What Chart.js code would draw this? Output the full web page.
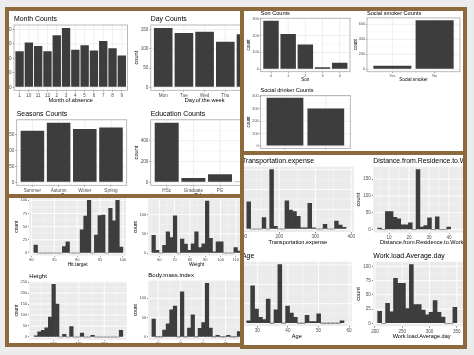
<!DOCTYPE html>
<html><head><meta charset="utf-8">
<script src="https://cdn.jsdelivr.net/npm/chart.js@4.4.1/dist/chart.umd.min.js"></script>
<style>
html,body{margin:0;padding:0;}
body{width:474px;height:355px;overflow:hidden;background:#ececec;position:relative;}
.fr{position:absolute;box-sizing:border-box;border:4px solid #8c6a3e;background:#fff;overflow:hidden;}
.fr canvas{position:absolute;}
</style></head><body>
<div class="fr" id="tl" style="left:5px;top:7px;width:239px;height:191px"></div>
<div class="fr" id="bl" style="left:5px;top:194px;width:239px;height:153px"></div>
<div class="fr" id="tr" style="left:240px;top:7px;width:227px;height:148px"></div>
<div class="fr" id="br" style="left:240px;top:151px;width:227px;height:198px"></div>
<script>
// ---------- data ----------
const monthLabels = ['1','10','11','12','2','3','4','5','6','7','8','9'];
const monthCounts = [50,62,57,50,72,82,52,58,51,64,54,44];
const dayLabels = ['Mon','Tue','Wed','Thu','Fri'];
const dayCounts = [154,141,144,118,138];
const seasonLabels = ['Summer','Autumn','Winter','Spring'];
const seasonCounts = [163,188,168,173];
const educationLabels = ['HSc','Graduate','PG','Master'];
const educationCounts = [573,42,77,4];
const sonLabels = ['0','1','2','3','4'];
const sonCounts = [288,209,146,12,39];
const smokerLabels = ['Yes','No'];
const smokerCounts = [48,653];
const drinkerLabels = ['Yes','No'];
const drinkerCounts = [389,303];

const hitBins = {start:80.9, width:0.78};
const hitCounts = [15,0,0,0,0,0,0,0,12,21,0,0,0,44,70,100,0,34,71,72,0,85,61,100,11];
const hitTicks = [80,85,90,95,100];
const weightBins = {start:56.3, width:2.33};
const weightCounts = [46,7,0,20,55,40,97,0,36,23,7,24,55,14,24,135,38,3,29,29,0,0,0,14,5];
const weightTicks = [60,70,80,90,100,110];
const heightBins = {start:163.2, width:1.39};
const heightCounts = [5,23,30,42,90,240,150,0,12,0,47,0,0,18,0,0,7,0,0,0,0,0,0,0,30];
const heightTicks = [170,180,190];
const bmiBins = {start:19, width:0.79};
const bmiCounts = [46,0,0,18,34,70,80,0,117,0,23,57,0,22,37,139,23,0,4,0,0,4,0,0,14];
const bmiTicks = [20,25,30,35];
const transBins = {start:115, width:10.6};
const transCounts = [69,0,0,0,29,0,150,7,0,0,71,48,44,32,3,3,65,3,0,0,12,0,0,20,10,4];
const transTicks = [100,200,300,400];
const distBins = {start:5.3, width:1.92};
const distCounts = [4,0,53,53,36,32,14,14,20,0,178,7,12,35,0,38,0,0,7];
const distTicks = [10,20,30,40,50];
const ageBins = {start:27.2, width:1.27};
const ageCounts = [6,96,36,15,9,62,0,34,151,0,44,26,15,0,0,20,4,4,24,0,0,0,0,0,6];
const ageTicks = [30,40,50,60];
const workBins = {start:208.6, width:7.26};
const workCounts = [21,0,35,20,79,70,70,26,103,33,33,23,15,19,40,19,11,0,0,28];
const workTicks = [200,250,300,350];

// ---------- layout / style ----------
const FONT = "'Liberation Sans', Arial, Helvetica, sans-serif";
const FRAMES = {tl:[9,11], bl:[9,198], tr:[244,11], br:[244,155]};
const SCALE = {tl:1, tr:0.81, bl:0.88, br:1};
const THEMES = {
  bw:{bg:'#ffffff', major:'#e4e4e4', majorW:0.6, minor:'#f2f2f2', minorW:0.4, border:'#a8a8a8', tick:'#555555'},
  gray:{bg:'#ebebeb', major:'#ffffff', majorW:0.9, minor:'#f6f6f6', minorW:0.5, border:null, tick:'#333333'}
};
const BAR = '#3d3d3d';

function minorBreaks(ticks, lo, hi){
  if (ticks.length < 2) return [];
  const d = ticks[1]-ticks[0], out = [];
  for (let v = ticks[0]-d/2; v <= hi; v += d) if (v >= lo) out.push(v);
  return out;
}

const ggPlugin = {
  id:'gg',
  beforeDatasetsDraw(chart, args, o){
    const {ctx, chartArea:a, scales:{x,y}} = chart;
    const th = THEMES[o.theme];
    ctx.save();
    ctx.fillStyle = th.bg;
    ctx.fillRect(a.left, a.top, a.right-a.left, a.bottom-a.top);
    ctx.beginPath(); ctx.rect(a.left, a.top, a.right-a.left, a.bottom-a.top); ctx.clip();
    const hline = (v, c, w) => { const p = y.getPixelForValue(v); ctx.strokeStyle=c; ctx.lineWidth=w; ctx.beginPath(); ctx.moveTo(a.left,p); ctx.lineTo(a.right,p); ctx.stroke(); };
    const vline = (v, c, w) => { const p = x.getPixelForValue(v); ctx.strokeStyle=c; ctx.lineWidth=w; ctx.beginPath(); ctx.moveTo(p,a.top); ctx.lineTo(p,a.bottom); ctx.stroke(); };
    minorBreaks(o.yTicks, y.min, y.max).forEach(v => hline(v, th.minor, th.minorW));
    if (!o.discrete) minorBreaks(o.xTicks, x.min, x.max).forEach(v => vline(v, th.minor, th.minorW));
    o.yTicks.forEach(v => hline(v, th.major, th.majorW));
    o.xTicks.forEach(v => vline(v, th.major, th.majorW));
    ctx.restore();
  },
  afterDatasetsDraw(chart, args, o){
    const th = THEMES[o.theme];
    if (!th.border) return;
    const {ctx, chartArea:a} = chart;
    ctx.save(); ctx.strokeStyle = th.border; ctx.lineWidth = 0.8;
    ctx.strokeRect(a.left, a.top, a.right-a.left, a.bottom-a.top);
    ctx.restore();
  },
  afterDraw(chart, args, o){
    const {ctx, chartArea:a} = chart;
    const f = o.f;
    ctx.save();
    ctx.fillStyle = '#000';
    ctx.font = o.sz.t + 'px ' + FONT;
    ctx.textAlign = 'left'; ctx.textBaseline = 'alphabetic';
    if (o.title) ctx.fillText(o.title, a.left + (o.tdx||0), a.top - 3.8*f);
    ctx.font = o.sz.a + 'px ' + FONT;
    ctx.textAlign = 'center'; ctx.textBaseline = 'middle';
    if (o.xTitle) ctx.fillText(o.xTitle, (a.left+a.right)/2, a.bottom + 10.4*f);
    ctx.font = o.sz.k + 'px ' + FONT;
    let mw = 0;
    o.yTicks.forEach(v => { mw = Math.max(mw, ctx.measureText(String(v)).width); });
    ctx.font = o.sz.a + 'px ' + FONT;
    const yx = a.left - (1.4*f + 1.0*f + mw + 1.6*f + o.sz.a/2);
    ctx.translate(yx, (a.top+a.bottom)/2);
    ctx.rotate(-Math.PI/2);
    if (o.yTitle) ctx.fillText(o.yTitle, 0, 0);
    ctx.restore();
  }
};

function makeChart(sp){
  const fr = FRAMES[sp.frame], f = SCALE[sp.frame];
  const sz = {t:6.9*f, a:5.6*f, k:4.6*f};
  const el = document.getElementById(sp.frame);
  const [pl,pt,pr,pb] = sp.plot;
  const cl = Math.floor(pl-46), ct = Math.floor(pt-16);
  const cr = Math.ceil(pr+3), cb = Math.ceil(pb+24);
  const cw = cr-cl, ch = cb-ct;
  const ML = pl-cl, MT = pt-ct, MR = cr-pr, MB = cb-pb;
  const cv = document.createElement('canvas');
  cv.width = cw; cv.height = ch;
  Object.assign(cv.style, {left:(cl-fr[0])+'px', top:(ct-fr[1])+'px', width:cw+'px', height:ch+'px'});
  el.appendChild(cv);
  let pts, xmin, xmax, xticks, xlab, pct, discrete;
  if (sp.labels){
    pts = sp.counts.map((c,i)=>({x:i+1, y:c}));
    xmin = 0.4; xmax = sp.labels.length + 0.6;
    xticks = sp.labels.map((_,i)=>i+1);
    xlab = v => sp.labels[Math.round(v)-1] || '';
    pct = 0.9; discrete = true;
  } else {
    pts = sp.counts.map((c,i)=>({x:sp.bins.start + i*sp.bins.width, y:c}));
    [xmin,xmax] = sp.xRange; xticks = sp.xTicks; xlab = v => String(v);
    pct = 1; discrete = false;
  }
  const th = THEMES[sp.theme];
  const tickOpts = (cb) => ({font:{family:FONT, size:sz.k}, color:'#4d4d4d', padding:1.0*f, maxRotation:0, minRotation:0, autoSkip:false, callback:cb});
  const gridOpts = {display:true, drawOnChartArea:false, drawTicks:true, tickLength:1.4*f, tickColor:th.tick, tickWidth:0.6, offset:false};
  new Chart(cv, {
    type:'bar',
    data:{datasets:[{data:pts, backgroundColor:BAR, borderWidth:0, categoryPercentage:pct, barPercentage:1}]},
    options:{
      responsive:false, animation:false, devicePixelRatio:1,
      layout:{padding:{left:0, top:MT, right:MR, bottom:0}, autoPadding:false},
      plugins:{legend:{display:false}, tooltip:{enabled:false}, title:{display:false},
        gg:{theme:sp.theme, f, sz, title:sp.title, xTitle:sp.xTitle, yTitle:'count', xTicks:xticks, yTicks:sp.yTicks, discrete, tdx:sp.tdx}},
      scales:{
        x:{type:'linear', min:xmin, max:xmax, offset:false,
           afterFit:s=>{s.height = MB;},
           afterBuildTicks:s=>{s.ticks = xticks.map(v=>({value:v}));},
           grid:gridOpts, border:{display:false}, ticks:tickOpts(xlab)},
        y:{type:'linear', min:sp.y[0], max:sp.y[1],
           afterFit:s=>{s.width = ML;},
           afterBuildTicks:s=>{s.ticks = sp.yTicks.map(v=>({value:v}));},
           grid:gridOpts, border:{display:false}, ticks:tickOpts(v=>String(v))}
      }
    },
    plugins:[ggPlugin]
  });
}

const specs = [
  {frame:'tl', theme:'bw', labels:monthLabels, counts:monthCounts, title:'Month Counts', xTitle:'Month.of.absence', plot:[14,25,127.4,90.3], y:[-4.1,86.1], yTicks:[0,20,40,60,80]},
  {frame:'tl', theme:'bw', labels:dayLabels, counts:dayCounts, title:'Day Counts', xTitle:'Day.of.the.week', plot:[150.8,25,258.4,90.3], y:[-7.7,161.7], yTicks:[0,50,100,150]},
  {frame:'tl', theme:'bw', labels:seasonLabels, counts:seasonCounts, title:'Seasons Counts', xTitle:'Seasons', plot:[16.7,119.8,126.7,185.3], y:[-9.4,197.4], yTicks:[0,50,100,150]},
  {frame:'tl', theme:'bw', labels:educationLabels, counts:educationCounts, title:'Education Counts', xTitle:'Education', plot:[150.7,119.8,262.7,185.3], y:[-28.65,601.65], yTicks:[0,200,400]},

  {frame:'tr', theme:'bw', labels:sonLabels, counts:sonCounts, title:'Son Counts', xTitle:'Son', plot:[260.7,18.2,350,71.7], y:[-14.4,302.4], yTicks:[0,100,200,300]},
  {frame:'tr', theme:'bw', labels:smokerLabels, counts:smokerCounts, title:'Social smoker Counts', xTitle:'Social.smoker', plot:[367,17.9,460,71.75], y:[-32.65,685.65], yTicks:[0,200,400,600]},
  {frame:'tr', theme:'bw', labels:drinkerLabels, counts:drinkerCounts, title:'Social drinker Counts', xTitle:'Social.drinker', plot:[260.5,95.4,350.3,148.4], y:[-19.45,408.45], yTicks:[0,100,200,300,400]},

  {frame:'bl', theme:'gray', bins:hitBins, counts:hitCounts, title:'Hit.target', xTitle:'Hit.target', plot:[29.3,197.7,126,255.6], y:[-5,105], yTicks:[0,25,50,75,100], xRange:[79.5,100.7], xTicks:hitTicks},
  {frame:'bl', theme:'gray', bins:weightBins, counts:weightCounts, title:'Weight', xTitle:'Weight', plot:[148.3,198.6,245,255.6], y:[-6.75,141.75], yTicks:[0,50,100], xRange:[52.8,116], xTicks:weightTicks},
  {frame:'bl', theme:'gray', bins:heightBins, counts:heightCounts, title:'Height', xTitle:'Height', plot:[29.3,281.6,126.7,339.6], y:[-12,252], yTicks:[0,50,100,150,200,250], xRange:[160.6,198.8], xTicks:heightTicks},
  {frame:'bl', theme:'gray', bins:bmiBins, counts:bmiCounts, title:'Body.mass.index', xTitle:'Body.mass.index', plot:[148.3,280.6,245,339.6], y:[-6.95,145.95], yTicks:[0,50,100], xRange:[17.8,39.3], xTicks:bmiTicks},

  {frame:'br', theme:'gray', bins:transBins, counts:transCounts, title:'Transportation.expense', xTitle:'Transportation.expense', plot:[241.9,166.7,353.8,232], y:[-7.5,157.5], yTicks:[0,50,100,150], xRange:[96,407], xTicks:transTicks},
  {frame:'br', theme:'gray', bins:distBins, counts:distCounts, title:'Distance.from.Residence.to.Work', xTitle:'Distance.from.Residence.to.Work', plot:[373.3,166.7,470,232.5], y:[-8.9,186.9], yTicks:[0,50,100,150], xRange:[2.15,50.5], xTicks:distTicks},
  {frame:'br', theme:'gray', bins:ageBins, counts:ageCounts, title:'Age', xTitle:'Age', plot:[242,261.7,351.7,326], y:[-7.55,158.55], yTicks:[0,50,100,150], xRange:[25,60.85], xTicks:ageTicks},
  {frame:'br', theme:'gray', bins:workBins, counts:workCounts, title:'Work.load.Average.day', xTitle:'Work.load.Average.day', plot:[373.3,261.7,470,326.2], y:[-5.15,108.15], yTicks:[0,25,50,75,100], xRange:[196.9,374.3], xTicks:workTicks}
];
specs.forEach(makeChart);
</script>
</body></html>
